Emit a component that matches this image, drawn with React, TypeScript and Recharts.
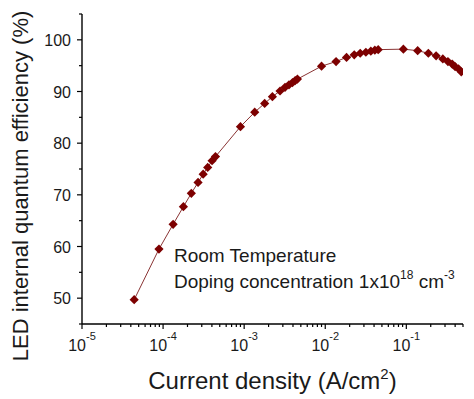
import React from 'react'
import { ScatterChart, Scatter, XAxis, YAxis } from 'recharts'

// current density (A/cm^2) and internal quantum efficiency (%)
const currentDensity = [
  4.4e-5, 8.9e-5, 1.33e-4, 1.78e-4, 2.23e-4, 2.7e-4, 3.12e-4, 3.55e-4, 4.02e-4, 4.43e-4,
  9.0e-4, 1.35e-3, 1.79e-3, 2.23e-3, 2.77e-3, 3.19e-3, 3.57e-3, 3.94e-3, 4.25e-3, 4.54e-3,
  9.0e-3, 1.36e-2, 1.83e-2, 2.28e-2, 2.7e-2, 3.17e-2, 3.65e-2, 4.09e-2, 4.5e-2,
  9.2e-2, 0.138, 0.187, 0.233, 0.282, 0.326, 0.368, 0.4, 0.44, 0.476,
]
const efficiency = [
  49.7, 59.5, 64.3, 67.7, 70.3, 72.4, 74.0, 75.3, 76.6, 77.4,
  83.2, 86.0, 87.7, 89.0, 90.1, 90.8, 91.3, 91.7, 92.1, 92.4,
  94.9, 95.8, 96.6, 97.1, 97.4, 97.6, 97.8, 98.0, 98.1,
  98.2, 97.9, 97.4, 96.9, 96.3, 95.8, 95.3, 94.8, 94.4, 93.8,
]

const xMajor = [1e-5, 1e-4, 1e-3, 1e-2, 1e-1]
const xMinorFactors = [2, 3, 4, 5, 6, 7, 8, 9]
const yMajor = [50, 60, 70, 80, 90, 100]
const yMinor = [45, 55, 65, 75, 85, 95, 105]

const xTicks: number[] = []
xMajor.forEach(d => {
  xTicks.push(d)
  xMinorFactors.forEach(f => {
    if (d * f <= 0.5) xTicks.push(d * f)
  })
})
const yTicks = [...yMajor, ...yMinor].sort((a, b) => a - b)

const points = currentDensity.map((x, i) => ({ x, y: efficiency[i] }))

const isMajorX = (v: number) => xMajor.some(m => Math.abs(v - m) / m < 1e-6)
const FONT = '"Liberation Sans", Arial, sans-serif'
const RED = '#7d0000'

function Diamond(props: any) {
  const { cx, cy } = props
  if (cx == null || cy == null) return null
  const r = 4.6
  return <path d={`M${cx},${cy - r}L${cx + r},${cy}L${cx},${cy + r}L${cx - r},${cy}Z`} fill={RED} />
}

function BottomTick({ x, y, payload }: any) {
  const v = payload.value
  const major = isMajorX(v)
  const exp = Math.round(Math.log10(v))
  return (
    <g>
      <line x1={x} x2={x} y1={y} y2={y + (major ? 5 : 3)} stroke="#000" strokeWidth={1.2} />
      {major && (
        <text x={x} y={y + 27} textAnchor="middle" fontSize={16} fontFamily={FONT} fill="#1a1a1a">
          <tspan>10</tspan>
          <tspan dy={-11} fontSize={11}>{exp}</tspan>
        </text>
      )}
    </g>
  )
}

function TopTick({ x, y, payload }: any) {
  const major = isMajorX(payload.value)
  return <line x1={x} x2={x} y1={y} y2={y + (major ? 5 : 3)} stroke="#000" strokeWidth={1.2} />
}

function LeftTick({ x, y, payload }: any) {
  const v = payload.value
  const major = yMajor.includes(v)
  return (
    <g>
      <line x1={x} x2={x - (major ? 5 : 3)} y1={y} y2={y} stroke="#000" strokeWidth={1.2} />
      {major && (
        <text x={x - 11} y={y + 6} textAnchor="end" fontSize={16} fontFamily={FONT} fill="#1a1a1a">
          {v}
        </text>
      )}
    </g>
  )
}

function RightTick({ x, y, payload }: any) {
  const major = yMajor.includes(payload.value)
  return <line x1={x} x2={x - (major ? 5 : 3)} y1={y} y2={y} stroke="#000" strokeWidth={1.2} />
}

const axisLine = { stroke: '#000', strokeWidth: 1.4 }

export default function App() {
  return (
    <div style={{ position: 'absolute', left: 0, top: 0, background: '#fff' }}>
      <ScatterChart width={474} height={399} margin={{ top: 14, right: 11, bottom: 0, left: 0 }}>
        <XAxis
          xAxisId="bottom"
          dataKey="x"
          type="number"
          scale="log"
          domain={[1e-5, 0.5]}
          allowDataOverflow
          ticks={xTicks}
          interval={0}
          tick={<BottomTick />}
          tickLine={false}
          tickSize={0}
          tickMargin={0}
          axisLine={axisLine}
          height={75}
        />
        <XAxis
          xAxisId="top"
          orientation="top"
          dataKey="x"
          type="number"
          scale="log"
          domain={[1e-5, 0.5]}
          allowDataOverflow
          ticks={xTicks}
          interval={0}
          tick={<TopTick />}
          tickLine={false}
          tickSize={0}
          tickMargin={0}
          axisLine={axisLine}
          height={0}
        />
        <YAxis
          yAxisId="left"
          dataKey="y"
          type="number"
          domain={[45, 105]}
          allowDataOverflow
          ticks={yTicks}
          interval={0}
          tick={<LeftTick />}
          tickLine={false}
          tickSize={0}
          tickMargin={0}
          axisLine={axisLine}
          width={82}
        />
        <YAxis
          yAxisId="right"
          orientation="right"
          dataKey="y"
          type="number"
          domain={[45, 105]}
          allowDataOverflow
          ticks={yTicks}
          interval={0}
          tick={<RightTick />}
          tickLine={false}
          tickSize={0}
          tickMargin={0}
          axisLine={axisLine}
          width={0}
        />
        <Scatter
          xAxisId="top"
          yAxisId="right"
          data={points}
          shape={() => <g />}
          isAnimationActive={false}
        />
        <Scatter
          xAxisId="bottom"
          yAxisId="left"
          data={points}
          line={{ stroke: '#8a3434', strokeWidth: 1 }}
          lineType="joint"
          shape={<Diamond />}
          isAnimationActive={false}
        />
        <text
          x={28}
          y={186}
          transform="rotate(-90 28 186)"
          textAnchor="middle"
          fontSize={22}
          fontFamily={FONT}
          fill="#1a1a1a"
        >
          LED internal quantum efficiency (%)
        </text>
        <text x={272.5} y={389} textAnchor="middle" fontSize={24} fontFamily={FONT} fill="#1a1a1a">
          <tspan>Current density (A/cm</tspan>
          <tspan dy={-10} fontSize={15}>2</tspan>
          <tspan dy={10}>)</tspan>
        </text>
        <text x={174} y={262} fontSize={19} fontFamily={FONT} fill="#1a1a1a">
          Room Temperature
        </text>
        <text x={174} y={288} fontSize={19} fontFamily={FONT} fill="#1a1a1a">
          <tspan>Doping concentration 1x10</tspan>
          <tspan dy={-9} fontSize={12}>18</tspan>
          <tspan dy={9}> cm</tspan>
          <tspan dy={-9} fontSize={12}>-3</tspan>
        </text>
      </ScatterChart>
    </div>
  )
}
